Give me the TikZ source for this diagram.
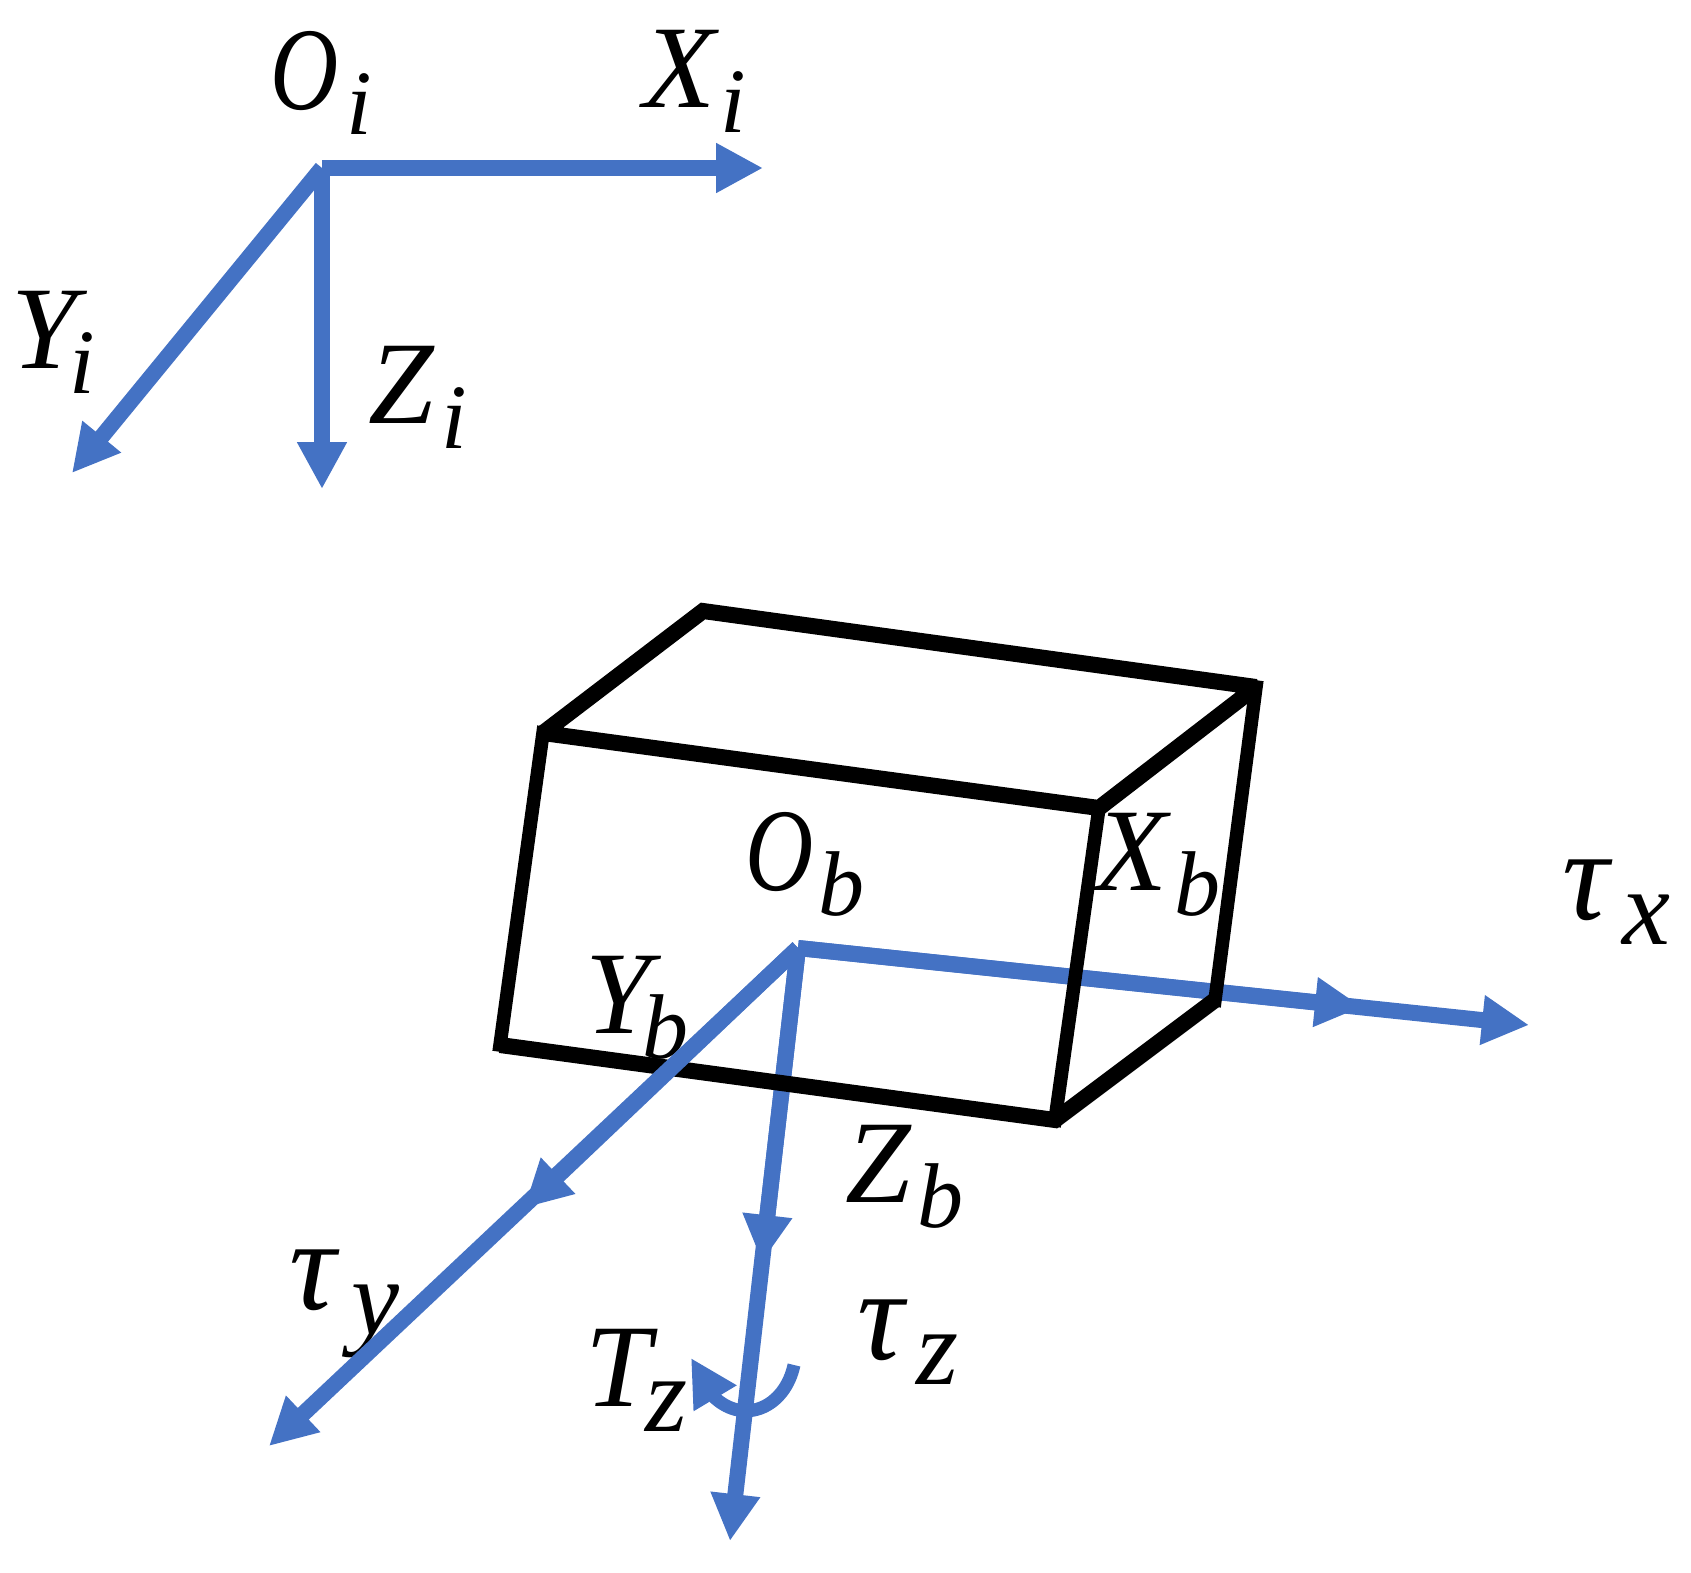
\documentclass[tikz,border=0pt]{standalone}
\usepackage{fontspec}
\usepackage{xcolor}
\setmainfont{Liberation Serif}
\usetikzlibrary{arrows.meta}
\definecolor{axisblue}{HTML}{4472C4}
\newcommand{\axlbl}[3]{\itshape #1\kern#2\raisebox{-12.5pt}{\fontsize{46}{50}\selectfont #3}}
\newcommand{\narrowO}{\scalebox{.8}[1]{O}}
\newcommand{\bigtau}{{\fontsize{65}{68}\selectfont τ}}
\newcommand{\bigsub}[1]{\fontsize{54}{56}\selectfont #1}
\begin{document}
\begin{tikzpicture}[x=0.5pt, y=-0.5pt,
    axis/.style={draw=axisblue, line width=8pt, -{Triangle[length=23.5pt, width=23.5pt]}},
    boxedge/.style={draw=black, line width=8pt, line join=miter, miter limit=2, line cap=butt},
    boxside/.style={draw=black, line width=6.75pt, line cap=rect},
    lbl/.style={anchor=base west, inner sep=0pt, font=\fontsize{59}{62}\selectfont}]

    \useasboundingbox (0,0) rectangle (1691,1573);

    \node[lbl] (oilabel) at (270,110) {\axlbl{\narrowO}{4pt}{i}};
    \node[lbl] (xilabel) at (643,108) {\axlbl{X}{2.5pt}{i}};
    \node[lbl] (yilabel) at (11,368) {\axlbl{Y}{-4pt}{i}};
    \node[lbl] (zilabel) at (368,423) {\axlbl{Z}{3.5pt}{i}};
    \node[lbl] (oblabel) at (745,890) {\axlbl{\narrowO}{2.5pt}{b}};
    \node[lbl] (xblabel) at (1095,890) {\axlbl{X}{3.5pt}{b}};
    \node[lbl] (yblabel) at (585,1033) {\axlbl{Y}{-4.5pt}{b}};
    \node[lbl] (zblabel) at (845,1202) {\axlbl{Z}{3pt}{b}};
    \node[lbl] (txlabel) at (1562,919) {\axlbl{\bigtau}{7pt}{\bigsub{x}}};
    \node[lbl] (tylabel) at (289,1309) {\axlbl{\bigtau}{8pt}{\bigsub{y}}};
    \node[lbl] (tzlabel) at (857,1359) {\axlbl{\bigtau}{6.5pt}{\bigsub{z}}};
    \node[lbl] (Tzlabel) at (585,1406) {\axlbl{T}{-3pt}{\bigsub{z}}};

    \coordinate (oi) at (322,168);
    \coordinate (xi) at (763,168);
    \coordinate (yi) at (72,473);
    \coordinate (zi) at (322,489);

    \coordinate (ob) at (798,948);
    \coordinate (xb) at (1362,1007);
    \coordinate (taux) at (1529,1025);
    \coordinate (yb) at (524,1208);
    \coordinate (tauy) at (269,1446);
    \coordinate (zb) at (762,1262);
    \coordinate (tauz) at (730,1541);

    \coordinate (a) at (703,611);
    \coordinate (b) at (1256,687);
    \coordinate (c) at (543,733);
    \coordinate (d) at (1099,808);
    \coordinate (e) at (500,1045);
    \coordinate (f) at (1055,1120);
    \coordinate (g) at (1215,1000);

    \coordinate (twiststart) at (794,1365);
    \coordinate (twistend) at (715,1398);
    \coordinate (twisttip) at (691,1358);

    \path[axis] (oi) -- (xi);
    \path[axis] (oi) -- (zi);
    \path[axis] (oi) -- (yi);

    \path[axis] (ob) -- (xb);
    \path[axis] (ob) -- (taux);
    \path[axis] (ob) -- (zb);
    \path[axis] (ob) -- (tauz);

    \path[boxside] (c) -- (e);
    \path[boxside] (d) -- (f);
    \path[boxside] (b) -- (g);
    \path[boxedge] (a) -- (b) -- (d) -- (c) -- cycle;
    \path[boxedge] (e) -- (f) -- (g);

    \path[axis] (ob) -- (yb);
    \path[axis] (ob) -- (tauy);

    \path[axis, line width=6.5pt] (twiststart) .. controls (785,1407) and (745,1425) .. (twistend) -- (twisttip);

\end{tikzpicture}
\end{document}
